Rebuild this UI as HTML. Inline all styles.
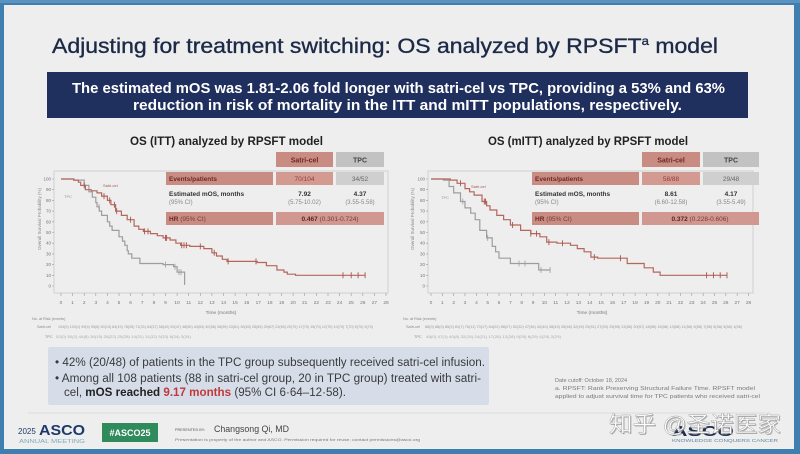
<!DOCTYPE html>
<html>
<head>
<meta charset="utf-8">
<style>
html,body{margin:0;padding:0;width:800px;height:454px;overflow:hidden;background:#3f7fb0;}
svg{display:block;}
text{font-family:"Liberation Sans","Noto Sans CJK SC",sans-serif;}
</style>
</head>
<body>
<svg width="800" height="454" viewBox="0 0 800 454" xmlns="http://www.w3.org/2000/svg">
  <!-- frame -->
  <rect x="0" y="0" width="800" height="454" fill="#3f7fb0"/>
  <rect x="0" y="0" width="800" height="3" fill="#5a93c0"/>
  <rect x="4" y="5" width="790" height="444" fill="#edeeed"/>

  <!-- main title -->
  <text x="52" y="53" font-size="21" fill="#1c2a48" stroke="#1c2a48" stroke-width="0.35" textLength="666" lengthAdjust="spacingAndGlyphs">Adjusting for treatment switching: OS analyzed by RPSFT<tspan font-size="12" dy="-8">a</tspan><tspan dy="8"> model</tspan></text>

  <!-- banner -->
  <rect x="47" y="72" width="701" height="46" fill="#1f2f5e"/>
  <text x="72" y="93" font-size="15" font-weight="bold" fill="#ffffff" textLength="653" lengthAdjust="spacingAndGlyphs">The estimated mOS was 1.81-2.06 fold longer with satri-cel vs TPC, providing a 53% and 63%</text>
  <text x="133" y="110" font-size="15" font-weight="bold" fill="#ffffff" textLength="549" lengthAdjust="spacingAndGlyphs">reduction in risk of mortality in the ITT and mITT populations, respectively.</text>

  <!-- ================= ITT PANEL ================= -->
  <text x="130" y="145" font-size="12" font-weight="bold" fill="#222" textLength="193" lengthAdjust="spacingAndGlyphs">OS (ITT) analyzed by RPSFT model</text>

  <rect x="54" y="171" width="334" height="122" fill="none" stroke="#c9c9c9" stroke-width="0.8"/>
  <g font-size="4.5" fill="#777" text-anchor="end">
    <text x="51" y="180.5">100</text><text x="51" y="191.2">90</text><text x="51" y="201.9">80</text><text x="51" y="212.6">70</text><text x="51" y="223.3">60</text><text x="51" y="234">50</text><text x="51" y="244.7">40</text><text x="51" y="255.4">30</text><text x="51" y="266.1">20</text><text x="51" y="276.8">10</text><text x="51" y="287.5">0</text>
  </g>
  <path d="M52,179H54M52,189.7H54M52,200.4H54M52,211.1H54M52,221.8H54M52,232.5H54M52,243.2H54M52,253.9H54M52,264.6H54M52,275.3H54M52,286H54" stroke="#999" stroke-width="0.6"/>
  <text transform="translate(41,250) rotate(-90)" font-size="4.5" fill="#888">Overall Survival Probability (%)</text>
  <path d="M61,293V296M72.6,293V296M84.2,293V296M95.8,293V296M107.4,293V296M119,293V296M130.6,293V296M142.2,293V296M153.9,293V296M165.5,293V296M177.1,293V296M188.7,293V296M200.3,293V296M211.9,293V296M223.5,293V296M235.1,293V296M246.7,293V296M258.3,293V296M269.9,293V296M281.5,293V296M293.1,293V296M304.7,293V296M316.4,293V296M328,293V296M339.6,293V296M351.2,293V296M362.8,293V296M374.4,293V296M386,293V296" stroke="#999" stroke-width="0.6"/>
  <g font-size="4.8" fill="#777" text-anchor="middle">
    <text x="61" y="304">0</text><text x="72.6" y="304">1</text><text x="84.2" y="304">2</text><text x="95.8" y="304">3</text><text x="107.4" y="304">4</text><text x="119" y="304">5</text><text x="130.6" y="304">6</text><text x="142.2" y="304">7</text><text x="153.9" y="304">8</text><text x="165.5" y="304">9</text><text x="177.1" y="304">10</text><text x="188.7" y="304">11</text><text x="200.3" y="304">12</text><text x="211.9" y="304">13</text><text x="223.5" y="304">14</text><text x="235.1" y="304">15</text><text x="246.7" y="304">16</text><text x="258.3" y="304">17</text><text x="269.9" y="304">18</text><text x="281.5" y="304">19</text><text x="293.1" y="304">20</text><text x="304.7" y="304">21</text><text x="316.4" y="304">22</text><text x="328" y="304">23</text><text x="339.6" y="304">24</text><text x="351.2" y="304">25</text><text x="362.8" y="304">26</text><text x="374.4" y="304">27</text><text x="386" y="304">28</text>
    <text x="221" y="314">Time (months)</text>
  </g>
  <path d="M61,179H73.8V180.1H84.2V185.4H88.9V191.8H92.3V197.2H95.8V202.5H97V206.8H99.3V211.1H101.6V215.4H107.4V221.8H109.7V226.1H112.1V230.4H119V236.8H122.5V241.1H124.8V245.3H127.2V250.7H128.3V253.9H131.8V258.2H139.9V263.5H163.1V264.6H173.6V266.7H177.1V272.1H184.6V284.9" fill="none" stroke="#9d9d9d" stroke-width="1.2"/>
  <path d="M61,179H73.8V180.1H78.4V182.2H80.7V185.4H85.4V189.7H91.2V190.8H97V192.9H101.6V196.1H107.4V200.4H110.9V204.7H115.6V211.1H121.4V215.4H127.2V219.7H134.1V226.1H138.8V229.3H143.4V231.4H150.4V233.6H157.3V235.7H163.1V237.9H170.1V240H175.9V243.2H180.6V245.3H189.8V246.4H203.8V248.6H211.9V252.8H216.5V256H222.3V259.3H227V261.4H257.2V262.5H266.4V265.7H276.9V270H283.9V272.1H287.3V274.2H295.5V275.3H365.1" fill="none" stroke="#b5675d" stroke-width="1.2"/>
  <path d="M99,203.8V209.8M165.5,261.6V267.6M175,263.7V269.7M179,269.1V275.1M181,269.1V275.1" stroke="#9d9d9d" stroke-width="0.8"/>
  <path d="M84.2,182.4V188.4M104,193.1V199.1M109.7,197.4V203.4M114.4,201.7V207.7M116.7,208.1V214.1M130.6,216.7V222.7M144.6,228.4V234.4M148,228.4V234.4M165.5,234.9V240.9M166.6,234.9V240.9M181.7,242.3V248.3M184,242.3V248.3M186.4,242.3V248.3M200.3,243.4V249.4M214.2,249.8V255.8M228.1,258.4V264.4M256,258.4V264.4M343,272.3V278.3M351.2,272.3V278.3M358.1,272.3V278.3M365.1,272.3V278.3" stroke="#a9564c" stroke-width="0.9"/>
  <text x="103" y="187" font-size="4" fill="#a05a52">Satri-cel</text>
  <text x="64" y="198" font-size="4" fill="#999">TPC</text>

  <!-- ITT table -->
  <rect x="276" y="152" width="57" height="15" fill="#c98c83"/>
  <rect x="336" y="152" width="48" height="15" fill="#c2c2c2"/>
  <text x="304.5" y="162.5" font-size="7" font-weight="bold" fill="#6b2a24" text-anchor="middle">Satri-cel</text>
  <text x="360" y="162.5" font-size="7" font-weight="bold" fill="#444" text-anchor="middle">TPC</text>
  <rect x="166" y="172" width="107" height="13" fill="#c98c83"/>
  <rect x="276" y="172" width="57" height="13" fill="#d29a91"/>
  <rect x="336" y="172" width="48" height="13" fill="#cfcfcf"/>
  <text x="169" y="181" font-size="6.5" font-weight="bold" fill="#6b2a24">Events/patients</text>
  <text x="304.5" y="181" font-size="6.5" fill="#8e3f36" text-anchor="middle">70/104</text>
  <text x="360" y="181" font-size="6.5" fill="#666" text-anchor="middle">34/52</text>
  <text x="169" y="196" font-size="6.5" font-weight="bold" fill="#333">Estimated mOS, months</text>
  <text x="169" y="204" font-size="6" fill="#888">(95% CI)</text>
  <text x="304.5" y="196" font-size="6.5" font-weight="bold" fill="#333" text-anchor="middle">7.92</text>
  <text x="304.5" y="204" font-size="6" fill="#888" text-anchor="middle">(5.75-10.02)</text>
  <text x="360" y="196" font-size="6.5" font-weight="bold" fill="#333" text-anchor="middle">4.37</text>
  <text x="360" y="204" font-size="6" fill="#888" text-anchor="middle">(3.55-5.58)</text>
  <rect x="166" y="212" width="107" height="13" fill="#c98c83"/>
  <rect x="276" y="212" width="108" height="13" fill="#d09890"/>
  <text x="169" y="221" font-size="6.5" fill="#7a3a33"><tspan font-weight="bold" fill="#6b2a24">HR</tspan> (95% CI)</text>
  <text x="330" y="221" font-size="6.5" fill="#7a3a33" text-anchor="middle"><tspan font-weight="bold" fill="#5a2420">0.467</tspan> (0.301-0.724)</text>

  <!-- ITT risk table -->
  <text x="32" y="320" font-size="3.8" fill="#888">No. at Risk (events)</text>
  <text x="37" y="328" font-size="3.8" fill="#888">Satri-cel</text>
  <text x="58" y="328" font-size="3.6" fill="#999" textLength="315" lengthAdjust="spacingAndGlyphs">104(0) 103(1) 99(4) 95(8) 90(13) 84(19) 78(25) 71(31) 64(37) 58(42) 52(47) 48(50) 44(53) 40(56) 36(59) 33(61) 30(63) 28(65) 25(67) 22(69) 20(70) 17(70) 15(70) 12(70) 10(70) 7(70) 5(70) 3(70)</text>
  <text x="45" y="338" font-size="3.8" fill="#888">TPC</text>
  <text x="56" y="338" font-size="3.6" fill="#aaa" textLength="135" lengthAdjust="spacingAndGlyphs">52(0) 50(2) 44(8) 36(15) 28(22) 20(28) 14(31) 11(32) 9(33) 6(34) 3(34)</text>

  <!-- ================= mITT PANEL ================= -->
  <text x="488" y="145" font-size="12" font-weight="bold" fill="#222" textLength="200" lengthAdjust="spacingAndGlyphs">OS (mITT) analyzed by RPSFT model</text>
  <rect x="428" y="171" width="325" height="122" fill="none" stroke="#c9c9c9" stroke-width="0.8"/>
  <g font-size="4.5" fill="#777" text-anchor="end">
    <text x="425" y="180.5">100</text><text x="425" y="191.2">90</text><text x="425" y="201.9">80</text><text x="425" y="212.6">70</text><text x="425" y="223.3">60</text><text x="425" y="234">50</text><text x="425" y="244.7">40</text><text x="425" y="255.4">30</text><text x="425" y="266.1">20</text><text x="425" y="276.8">10</text><text x="425" y="287.5">0</text>
  </g>
  <path d="M426,179H428M426,189.7H428M426,200.4H428M426,211.1H428M426,221.8H428M426,232.5H428M426,243.2H428M426,253.9H428M426,264.6H428M426,275.3H428M426,286H428" stroke="#999" stroke-width="0.6"/>
  <text transform="translate(414,250) rotate(-90)" font-size="4.5" fill="#888">Overall Survival Probability (%)</text>
  <path d="M431,293V296M442.3,293V296M453.7,293V296M465,293V296M476.4,293V296M487.7,293V296M499,293V296M510.4,293V296M521.7,293V296M533.1,293V296M544.4,293V296M555.7,293V296M567.1,293V296M578.4,293V296M589.8,293V296M601.1,293V296M612.4,293V296M623.8,293V296M635.1,293V296M646.5,293V296M657.8,293V296M669.1,293V296M680.5,293V296M691.8,293V296M703.2,293V296M714.5,293V296M725.8,293V296M737.2,293V296M748.5,293V296" stroke="#999" stroke-width="0.6"/>
  <g font-size="4.8" fill="#777" text-anchor="middle">
    <text x="431" y="304">0</text><text x="442.3" y="304">1</text><text x="453.7" y="304">2</text><text x="465" y="304">3</text><text x="476.4" y="304">4</text><text x="487.7" y="304">5</text><text x="499" y="304">6</text><text x="510.4" y="304">7</text><text x="521.7" y="304">8</text><text x="533.1" y="304">9</text><text x="544.4" y="304">10</text><text x="555.7" y="304">11</text><text x="567.1" y="304">12</text><text x="578.4" y="304">13</text><text x="589.8" y="304">14</text><text x="601.1" y="304">15</text><text x="612.4" y="304">16</text><text x="623.8" y="304">17</text><text x="635.1" y="304">18</text><text x="646.5" y="304">19</text><text x="657.8" y="304">20</text><text x="669.1" y="304">21</text><text x="680.5" y="304">22</text><text x="691.8" y="304">23</text><text x="703.2" y="304">24</text><text x="714.5" y="304">25</text><text x="725.8" y="304">26</text><text x="737.2" y="304">27</text><text x="748.5" y="304">28</text>
    <text x="592" y="314">Time (months)</text>
  </g>
  <path d="M431,179H443.5V180.1H449.1V186.5H453.7V192.9H460.5V201.5H465V207.9H470.7V213.2H475.2V219.7H479.8V230.4H486.6V237.9H492.2V246.4H495.6V251.8H499V258.2H510.4V263.5H538.7V270H550.1" fill="none" stroke="#9d9d9d" stroke-width="1.2"/>
  <path d="M431,179H450.3V180.1H457.1V183.3H465V188.6H469.6V191.8H474.1V195.1H482V201.5H486.6V205.8H490V210H496.8V215.4H503.6V219.7H510.4V225H520.6V230.4H530.8V233.6H539.9V236.8H546.7V242.1H556.9V243.2H570.5V245.3H577.3V248.6H584.1V251.8H590.9V257.1H597.7V258.2H627.2V263.5H644.2V267.8H653.3V272.1H660.1V275.3H727" fill="none" stroke="#b5675d" stroke-width="1.2"/>
  <path d="M462.8,198.5V204.5M487.7,234.9V240.9M519,260.5V266.5M525,260.5V266.5M541,267V273M550.1,267V273" stroke="#9d9d9d" stroke-width="0.8"/>
  <path d="M460.5,180.3V186.3M484.3,198.5V204.5M485.5,198.5V204.5M512.6,222V228M530.8,230.6V236.6M536.5,230.6V236.6M548.9,239.1V245.1M562.5,240.2V246.2M594.3,254.1V260.1M620.4,255.2V261.2M706.6,272.3V278.3M713.4,272.3V278.3M720.2,272.3V278.3M727,272.3V278.3" stroke="#a9564c" stroke-width="0.9"/>
  <text x="471" y="188" font-size="4" fill="#a05a52">Satri-cel</text>
  <text x="441" y="199" font-size="4" fill="#999">TPC</text>

  <!-- mITT table -->
  <rect x="642" y="152" width="58" height="15" fill="#c98c83"/>
  <rect x="703" y="152" width="56" height="15" fill="#c2c2c2"/>
  <text x="671" y="162.5" font-size="7" font-weight="bold" fill="#6b2a24" text-anchor="middle">Satri-cel</text>
  <text x="731" y="162.5" font-size="7" font-weight="bold" fill="#444" text-anchor="middle">TPC</text>
  <rect x="532" y="172" width="107" height="13" fill="#c98c83"/>
  <rect x="642" y="172" width="58" height="13" fill="#d29a91"/>
  <rect x="703" y="172" width="56" height="13" fill="#cfcfcf"/>
  <text x="535" y="181" font-size="6.5" font-weight="bold" fill="#6b2a24">Events/patients</text>
  <text x="671" y="181" font-size="6.5" fill="#8e3f36" text-anchor="middle">58/88</text>
  <text x="731" y="181" font-size="6.5" fill="#666" text-anchor="middle">29/48</text>
  <text x="535" y="196" font-size="6.5" font-weight="bold" fill="#333">Estimated mOS, months</text>
  <text x="535" y="204" font-size="6" fill="#888">(95% CI)</text>
  <text x="671" y="196" font-size="6.5" font-weight="bold" fill="#333" text-anchor="middle">8.61</text>
  <text x="671" y="204" font-size="6" fill="#888" text-anchor="middle">(6.60-12.58)</text>
  <text x="731" y="196" font-size="6.5" font-weight="bold" fill="#333" text-anchor="middle">4.17</text>
  <text x="731" y="204" font-size="6" fill="#888" text-anchor="middle">(3.55-5.49)</text>
  <rect x="532" y="212" width="107" height="13" fill="#c98c83"/>
  <rect x="642" y="212" width="117" height="13" fill="#d09890"/>
  <text x="535" y="221" font-size="6.5" fill="#7a3a33"><tspan font-weight="bold" fill="#6b2a24">HR</tspan> (95% CI)</text>
  <text x="700" y="221" font-size="6.5" fill="#7a3a33" text-anchor="middle"><tspan font-weight="bold" fill="#5a2420">0.372</tspan> (0.228-0.606)</text>

  <!-- mITT risk table -->
  <text x="403" y="320" font-size="3.8" fill="#888">No. at Risk (events)</text>
  <text x="406" y="328" font-size="3.8" fill="#888">Satri-cel</text>
  <text x="425" y="328" font-size="3.6" fill="#999" textLength="317" lengthAdjust="spacingAndGlyphs">88(0) 88(0) 85(3) 81(7) 76(11) 70(17) 64(22) 58(27) 52(32) 47(36) 42(40) 38(43) 35(46) 32(49) 29(51) 27(53) 25(55) 23(56) 20(57) 18(58) 15(58) 13(58) 11(58) 9(58) 7(58) 5(58) 3(58) 1(58)</text>
  <text x="414" y="338" font-size="3.8" fill="#888">TPC</text>
  <text x="426" y="338" font-size="3.6" fill="#aaa" textLength="135" lengthAdjust="spacingAndGlyphs">48(0) 47(1) 40(8) 32(15) 24(21) 17(26) 12(28) 9(29) 6(29) 4(29) 2(29)</text>

  <!-- bullet box -->
  <rect x="48" y="347" width="441" height="58" rx="2" fill="#d6dde9"/>
  <text x="55" y="366" font-size="11.5" fill="#3a3a3a" textLength="430" lengthAdjust="spacingAndGlyphs">• 42% (20/48) of patients in the TPC group subsequently received satri-cel infusion.</text>
  <text x="55" y="382" font-size="11.5" fill="#3a3a3a" textLength="426" lengthAdjust="spacingAndGlyphs">• Among all 108 patients (88 in satri-cel group, 20 in TPC group) treated with satri-</text>
  <text x="64" y="396" font-size="11.5" fill="#3a3a3a" textLength="282" lengthAdjust="spacingAndGlyphs">cel, <tspan font-weight="bold" fill="#222">mOS reached </tspan><tspan font-weight="bold" fill="#c0393b">9.17 months</tspan> (95% CI 6·64–12·58).</text>

  <!-- date note -->
  <g font-size="5.5" fill="#7a7a7a">
    <text x="555" y="382">Date cutoff: October 18, 2024</text>
    <text x="555" y="390" textLength="200" lengthAdjust="spacingAndGlyphs">a. RPSFT: Rank Preserving Structural Failure Time. RPSFT model</text>
    <text x="555" y="398" textLength="205" lengthAdjust="spacingAndGlyphs">applied to adjust survival time for TPC patients who received satri-cel</text>
  </g>

  <!-- footer -->
  <line x1="28" y1="413" x2="766" y2="413" stroke="#d6d8d8" stroke-width="0.8"/>
  <text x="18" y="434" font-size="8" fill="#1e3a6a" font-family="Liberation Serif, serif">2025</text>
  <text x="39" y="435" font-size="15" font-weight="bold" fill="#1e3a6a" textLength="46" lengthAdjust="spacingAndGlyphs">ASCO</text>
  <text x="19" y="443" font-size="5.2" fill="#7aaec0" textLength="66" lengthAdjust="spacingAndGlyphs">ANNUAL MEETING</text>
  <rect x="102" y="423" width="56" height="19" fill="#2f8a5c"/>
  <text x="130" y="436" font-size="9" font-weight="bold" fill="#ffffff" text-anchor="middle">#ASCO25</text>
  <text x="175" y="431" font-size="3.8" fill="#555">PRESENTED BY:</text>
  <text x="214" y="432" font-size="9" fill="#444" textLength="75" lengthAdjust="spacingAndGlyphs">Changsong Qi, MD</text>
  <text x="175" y="441" font-size="3.6" fill="#777" textLength="245" lengthAdjust="spacingAndGlyphs">Presentation is property of the author and ASCO. Permission required for reuse; contact permissions@asco.org</text>

  <!-- ASCO logo right -->
  <text x="672" y="436" font-size="15" font-weight="bold" fill="#1e2e4e" textLength="62" lengthAdjust="spacingAndGlyphs">ASCO</text>
  <text x="672" y="442" font-size="4.2" fill="#5d8aa3" textLength="106" lengthAdjust="spacingAndGlyphs">KNOWLEDGE CONQUERS CANCER</text>

  <!-- watermark -->
  <text x="609" y="432" font-size="22" fill="#8a8a8a" font-family="Noto Sans CJK SC, sans-serif" textLength="172" lengthAdjust="spacingAndGlyphs" opacity="0.6" transform="translate(1,1)">知乎 @圣诺医家</text>
  <text x="609" y="432" font-size="22" fill="#ffffff" stroke="#9a9a9a" stroke-width="0.4" font-family="Noto Sans CJK SC, sans-serif" textLength="172" lengthAdjust="spacingAndGlyphs">知乎 @圣诺医家</text>
</svg>
</body>
</html>
